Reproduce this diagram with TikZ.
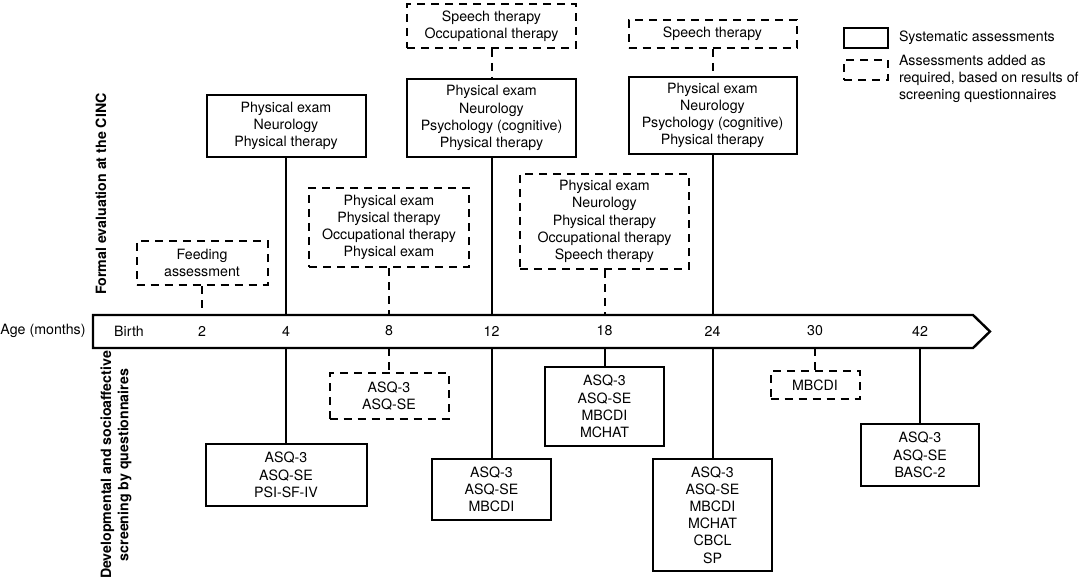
\documentclass[tikz,border=0pt]{standalone}
\usepackage{fontspec}
\setmainfont{TeX Gyre Heros}
\begin{document}
\begin{tikzpicture}[x=1pt, y=-1pt, line width=2pt,
	every node/.style={inner sep=0pt, align=center, font=\fontsize{14.2}{17.2}\selectfont},
	sbox/.style={rectangle, draw},
	dbox/.style={rectangle, draw, dash pattern=on 8pt off 6pt},
	dline/.style={dash pattern=on 8pt off 6pt},
	side/.style={rotate=90, font=\bfseries\fontsize{14.2}{17.2}\selectfont}]
	\useasboundingbox (0,0) rectangle (1080,583);

		% time line
		\draw[line width=2.4pt, line join=miter] (93,315) -- (973,315) -- (990,331.5) -- (973,348) -- (93,348) -- cycle;
		\node (age) at (43,331) {Age (months)};
		\node (m0) at (129,331) {Birth};
		\node (m2) at (202,331) {2};
		\node (m4) at (286,331) {4};
		\node (m8) at (389,331) {8};
		\node (m12) at (491.5,331) {12};
		\node (m18) at (604.5,331) {18};
		\node (m24) at (712.5,331) {24};
		\node (m30) at (815,331) {30};
		\node (m42) at (920,331) {42};
		\foreach \n/\x in {2/202, 4/286, 8/389, 12/491.5, 18/604.5, 24/712.5, 30/815, 42/920} {
			\coordinate (t\n) at (\x,315);
			\coordinate (b\n) at (\x,348);
		}

		\node (side1) at (101,194) [side] {Formal evaluation at the CINC};
		\node (side2) at (116,465) [side] {Developmental and socioaffective\\screening by questionnaires};

		% formal evaluation
		\node (u2) at (202,263) [dbox, minimum width=131, minimum height=44] {Feeding\\assessment};
		\node (u4) at (286,126) [sbox, minimum width=159, minimum height=62] {Physical exam\\Neurology\\Physical therapy};
		\node (u8) at (389,227.5) [dbox, minimum width=160, minimum height=79] {Physical exam\\Physical therapy\\Occupational therapy\\Physical exam};
		\node (u12) at (491.5,118) [sbox, minimum width=169, minimum height=78] {Physical exam\\Neurology\\Psychology (cognitive)\\Physical therapy};
		\node (v12) at (491.5,26) [dbox, minimum width=169, minimum height=44] {Speech therapy\\Occupational therapy};
		\node (u18) at (604.5,221.5) [dbox, minimum width=169, minimum height=95] {Physical exam\\Neurology\\Physical therapy\\Occupational therapy\\Speech therapy};
		\node (u24) at (712.5,115.5) [sbox, minimum width=168, minimum height=77] {Physical exam\\Neurology\\Psychology (cognitive)\\Physical therapy};
		\node (v24) at (712.5,34) [dbox, minimum width=168, minimum height=28] {Speech therapy};

		\draw[dline] (u2) to (t2);
		\draw[-] (u4) to (t4);
		\draw[dline] (u8) to (t8);
		\draw[-] (u12) to (t12);
		\draw[dline] (v12) to (u12);
		\draw[dline] (u18) to (t18);
		\draw[-] (u24) to (t24);
		\draw[dline] (v24) to (u24);

		% screening
		\node (d4) at (286,475) [sbox, minimum width=161, minimum height=62] {ASQ-3\\ASQ-SE\\PSI-SF-IV};
		\node (d8) at (389,396) [dbox, minimum width=119, minimum height=46] {ASQ-3\\ASQ-SE};
		\node (d12) at (491.5,489.5) [sbox, minimum width=119, minimum height=61] {ASQ-3\\ASQ-SE\\MBCDI};
		\node (d18) at (604.5,406.5) [sbox, minimum width=119, minimum height=79] {ASQ-3\\ASQ-SE\\MBCDI\\MCHAT};
		\node (d24) at (712.5,515) [sbox, minimum width=119, minimum height=112] {ASQ-3\\ASQ-SE\\MBCDI\\MCHAT\\CBCL\\SP};
		\node (d30) at (815,385) [dbox, minimum width=89, minimum height=28] {MBCDI};
		\node (d42) at (920,455) [sbox, minimum width=118, minimum height=62] {ASQ-3\\ASQ-SE\\BASC-2};

		\draw[-] (b4) to (d4);
		\draw[dline] (b8) to (d8);
		\draw[-] (b12) to (d12);
		\draw[-] (b18) to (d18);
		\draw[-] (b24) to (d24);
		\draw[dline] (b30) to (d30);
		\draw[-] (b42) to (d42);

		% legend
		\node (k1) at (866,38) [sbox, minimum width=44, minimum height=20] {};
		\node (k2) at (866,70) [dbox, minimum width=44, minimum height=20] {};
		\node (k1t) at (898,38) [anchor=west] {Systematic assessments};
		\node (k2t) at (898,79) [anchor=west, align=left] {Assessments added as\\required, based on results of\\screening questionnaires};

\end{tikzpicture}
\end{document}
